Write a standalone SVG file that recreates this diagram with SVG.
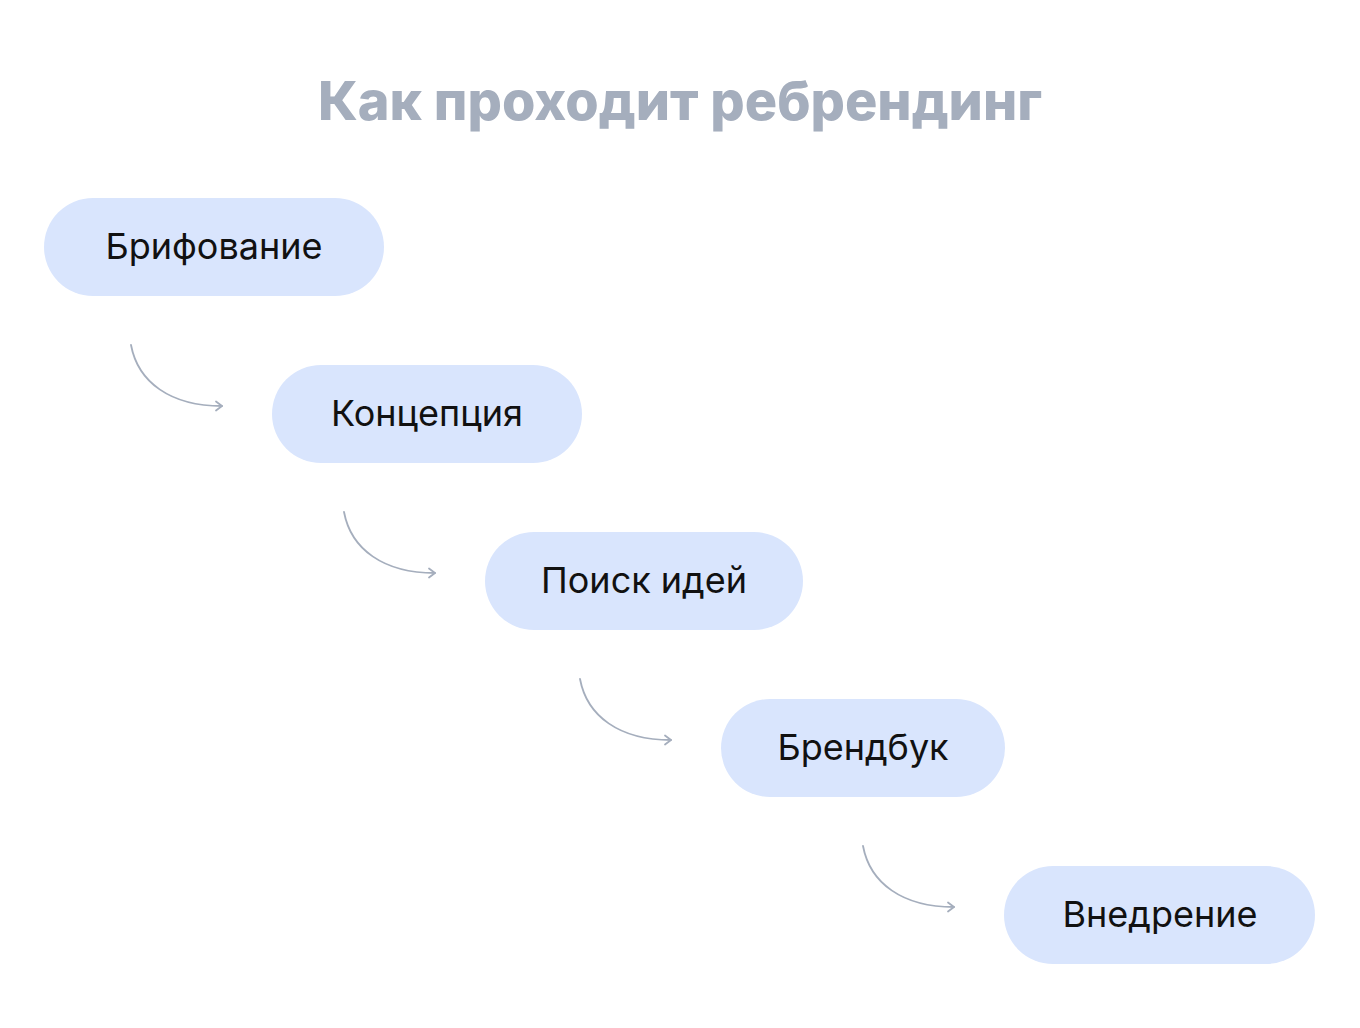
<svg xmlns="http://www.w3.org/2000/svg" width="1360" height="1028" viewBox="0 0 1360 1028">
<defs>
<style>
.node rect{fill:#d9e5fd}
.node text{font-family:Inter,"Liberation Sans",sans-serif;font-size:36px;fill:#111111;text-anchor:middle}
.title{font-family:Inter,"Liberation Sans",sans-serif;font-size:54px;font-weight:800;fill:#a5aebd;text-anchor:middle}
.conn path{fill:none;stroke:#a5aebd;stroke-width:1.8;stroke-linecap:round;stroke-linejoin:round}
</style>
<marker id="arr" viewBox="0 0 12 12" refX="10" refY="6" markerWidth="12" markerHeight="12" markerUnits="userSpaceOnUse" orient="auto">
<path d="M4,1.5 L10,6 L4,10.5" fill="none" stroke="#a5aebd" stroke-width="1.8" stroke-linecap="round" stroke-linejoin="round"/>
</marker>
</defs>
<rect width="1360" height="1028" fill="#ffffff"/>
<text class="title" x="680" y="120" textLength="724" lengthAdjust="spacingAndGlyphs">Как проходит ребрендинг</text>
<g id="n1" class="node"><rect x="44" y="198" width="340" height="98" rx="49"/><text x="214" y="259">Брифование</text></g>
<g id="n2" class="node"><rect x="272" y="365" width="310" height="98" rx="49"/><text x="427" y="426">Концепция</text></g>
<g id="n3" class="node"><rect x="485" y="532" width="318" height="98" rx="49"/><text x="644" y="593">Поиск идей</text></g>
<g id="n4" class="node"><rect x="721" y="699" width="284" height="98" rx="49"/><text x="863" y="760">Брендбук</text></g>
<g id="n5" class="node"><rect x="1004" y="866" width="311" height="98" rx="49"/><text x="1160" y="927">Внедрение</text></g>
<g id="connectors" class="conn">
<path d="M131,345 C138,382 170,406 222,406" marker-end="url(#arr)"/>
<path d="M344,512 C351,549 383,573 435,573" marker-end="url(#arr)"/>
<path d="M580,679 C587,716 619,740 671,740" marker-end="url(#arr)"/>
<path d="M863,846 C870,883 902,907 954,907" marker-end="url(#arr)"/>
</g>
</svg>
